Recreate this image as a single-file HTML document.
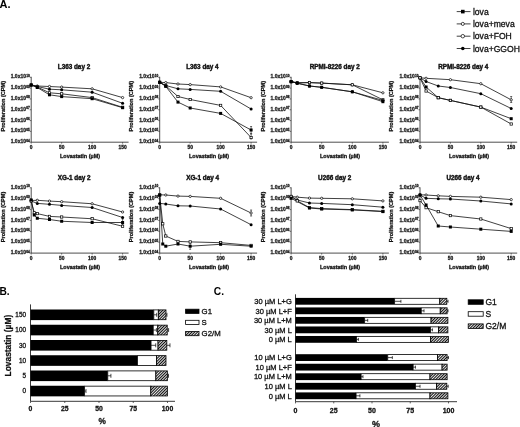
<!DOCTYPE html>
<html><head><meta charset="utf-8"><style>
html,body{margin:0;padding:0;background:#fff;overflow:hidden}
svg{display:block}
text{font-family:'Liberation Sans', Arial, Helvetica, sans-serif}
.sb{stroke:#111;stroke-width:0.28px}
.sr{stroke:#111;stroke-width:0.3px}
.sb2{stroke:#111;stroke-width:0.4px}
</style></head><body>
<svg width="520" height="427" viewBox="0 0 520 427">
<defs><pattern id="hatch" patternUnits="userSpaceOnUse" width="2" height="2" patternTransform="rotate(45)">
<rect width="2" height="2" fill="#fff"/><rect width="1.1" height="2" fill="#111"/></pattern></defs>
<rect width="520" height="427" fill="#fff"/>
<line x1="31.2" y1="76.8" x2="31.2" y2="142.2" stroke="#222" stroke-width="0.8"/>
<line x1="31.2" y1="142.2" x2="128.6" y2="142.2" stroke="#222" stroke-width="0.8"/>
<line x1="29.7" y1="77.30" x2="31.2" y2="77.30" stroke="#222" stroke-width="0.6"/>
<text x="26.0" y="78.40" font-size="5.0" font-weight="bold" text-anchor="end" fill="#333" class="sb">1.0x10</text>
<text x="26.2" y="76.80" font-size="3.2" font-weight="bold" fill="#333" class="sb">10</text>
<line x1="29.7" y1="88.12" x2="31.2" y2="88.12" stroke="#222" stroke-width="0.6"/>
<text x="26.0" y="89.22" font-size="5.0" font-weight="bold" text-anchor="end" fill="#333" class="sb">1.0x10</text>
<text x="26.2" y="87.62" font-size="3.2" font-weight="bold" fill="#333" class="sb">09</text>
<line x1="29.7" y1="98.93" x2="31.2" y2="98.93" stroke="#222" stroke-width="0.6"/>
<text x="26.0" y="100.03" font-size="5.0" font-weight="bold" text-anchor="end" fill="#333" class="sb">1.0x10</text>
<text x="26.2" y="98.43" font-size="3.2" font-weight="bold" fill="#333" class="sb">08</text>
<line x1="29.7" y1="109.75" x2="31.2" y2="109.75" stroke="#222" stroke-width="0.6"/>
<text x="26.0" y="110.85" font-size="5.0" font-weight="bold" text-anchor="end" fill="#333" class="sb">1.0x10</text>
<text x="26.2" y="109.25" font-size="3.2" font-weight="bold" fill="#333" class="sb">07</text>
<line x1="29.7" y1="120.57" x2="31.2" y2="120.57" stroke="#222" stroke-width="0.6"/>
<text x="26.0" y="121.67" font-size="5.0" font-weight="bold" text-anchor="end" fill="#333" class="sb">1.0x10</text>
<text x="26.2" y="120.07" font-size="3.2" font-weight="bold" fill="#333" class="sb">06</text>
<line x1="29.7" y1="131.38" x2="31.2" y2="131.38" stroke="#222" stroke-width="0.6"/>
<text x="26.0" y="132.48" font-size="5.0" font-weight="bold" text-anchor="end" fill="#333" class="sb">1.0x10</text>
<text x="26.2" y="130.88" font-size="3.2" font-weight="bold" fill="#333" class="sb">05</text>
<line x1="29.7" y1="142.20" x2="31.2" y2="142.20" stroke="#222" stroke-width="0.6"/>
<text x="26.0" y="143.30" font-size="5.0" font-weight="bold" text-anchor="end" fill="#333" class="sb">1.0x10</text>
<text x="26.2" y="141.70" font-size="3.2" font-weight="bold" fill="#333" class="sb">04</text>
<line x1="31.20" y1="142.2" x2="31.20" y2="143.7" stroke="#222" stroke-width="0.6"/>
<text x="31.20" y="149.1" font-size="4.9" font-weight="bold" text-anchor="middle" fill="#222" class="sb">0</text>
<line x1="61.67" y1="142.2" x2="61.67" y2="143.7" stroke="#222" stroke-width="0.6"/>
<text x="61.67" y="149.1" font-size="4.9" font-weight="bold" text-anchor="middle" fill="#222" class="sb">50</text>
<line x1="92.13" y1="142.2" x2="92.13" y2="143.7" stroke="#222" stroke-width="0.6"/>
<text x="92.13" y="149.1" font-size="4.9" font-weight="bold" text-anchor="middle" fill="#222" class="sb">100</text>
<line x1="122.60" y1="142.2" x2="122.60" y2="143.7" stroke="#222" stroke-width="0.6"/>
<text x="122.60" y="149.1" font-size="4.9" font-weight="bold" text-anchor="middle" fill="#222" class="sb">150</text>
<text x="74" y="68.9" font-size="6.35" font-weight="bold" text-anchor="middle" fill="#111" class="sb2">L363 day 2</text>
<text x="80" y="157.89999999999998" font-size="5.45" font-weight="bold" text-anchor="middle" fill="#111" class="sb">Lovastatin (&#181;M)</text>
<text transform="translate(4.7 106.25) rotate(-90)" x="0" y="0" font-size="5.6" font-weight="bold" text-anchor="middle" fill="#111" class="sb">Proliferation (CPM)</text>
<polyline points="31.20,85.00 37.29,86.00 49.48,86.50 61.67,87.10 92.13,88.80 122.60,97.60" fill="none" stroke="#111" stroke-width="0.8"/>
<polyline points="31.20,85.00 37.29,86.50 49.48,89.20 61.67,89.80 92.13,92.20 122.60,103.30" fill="none" stroke="#111" stroke-width="0.8"/>
<polyline points="31.20,85.00 37.29,87.00 49.48,92.80 61.67,93.80 92.13,97.60 122.60,107.30" fill="none" stroke="#111" stroke-width="0.8"/>
<polyline points="31.20,85.00 37.29,87.50 49.48,94.80 61.67,96.60 92.13,98.70 122.60,107.70" fill="none" stroke="#111" stroke-width="0.8"/>
<circle cx="31.20" cy="85.00" r="1.15" fill="#fff" stroke="#000" stroke-width="0.7"/>
<circle cx="37.29" cy="86.00" r="1.15" fill="#fff" stroke="#000" stroke-width="0.7"/>
<circle cx="49.48" cy="86.50" r="1.15" fill="#fff" stroke="#000" stroke-width="0.7"/>
<circle cx="61.67" cy="87.10" r="1.15" fill="#fff" stroke="#000" stroke-width="0.7"/>
<circle cx="92.13" cy="88.80" r="1.15" fill="#fff" stroke="#000" stroke-width="0.7"/>
<circle cx="122.60" cy="97.60" r="1.15" fill="#fff" stroke="#000" stroke-width="0.7"/>
<circle cx="31.20" cy="85.00" r="1.50" fill="#000"/>
<circle cx="37.29" cy="86.50" r="1.50" fill="#000"/>
<circle cx="49.48" cy="89.20" r="1.50" fill="#000"/>
<circle cx="61.67" cy="89.80" r="1.50" fill="#000"/>
<circle cx="92.13" cy="92.20" r="1.50" fill="#000"/>
<circle cx="122.60" cy="103.30" r="1.50" fill="#000"/>
<rect x="30.05" y="83.85" width="2.30" height="2.30" fill="#fff" stroke="#000" stroke-width="0.7"/>
<rect x="36.14" y="85.85" width="2.30" height="2.30" fill="#fff" stroke="#000" stroke-width="0.7"/>
<rect x="48.33" y="91.65" width="2.30" height="2.30" fill="#fff" stroke="#000" stroke-width="0.7"/>
<rect x="60.52" y="92.65" width="2.30" height="2.30" fill="#fff" stroke="#000" stroke-width="0.7"/>
<rect x="90.98" y="96.45" width="2.30" height="2.30" fill="#fff" stroke="#000" stroke-width="0.7"/>
<rect x="121.45" y="106.15" width="2.30" height="2.30" fill="#fff" stroke="#000" stroke-width="0.7"/>
<rect x="29.70" y="83.50" width="3.00" height="3.00" fill="#000"/>
<rect x="35.79" y="86.00" width="3.00" height="3.00" fill="#000"/>
<rect x="47.98" y="93.30" width="3.00" height="3.00" fill="#000"/>
<rect x="60.17" y="95.10" width="3.00" height="3.00" fill="#000"/>
<rect x="90.63" y="97.20" width="3.00" height="3.00" fill="#000"/>
<rect x="121.10" y="106.20" width="3.00" height="3.00" fill="#000"/>
<line x1="159.7" y1="76.8" x2="159.7" y2="142.2" stroke="#222" stroke-width="0.8"/>
<line x1="159.7" y1="142.2" x2="257.1" y2="142.2" stroke="#222" stroke-width="0.8"/>
<line x1="158.2" y1="77.30" x2="159.7" y2="77.30" stroke="#222" stroke-width="0.6"/>
<text x="154.5" y="78.40" font-size="5.0" font-weight="bold" text-anchor="end" fill="#333" class="sb">1.0x10</text>
<text x="154.7" y="76.80" font-size="3.2" font-weight="bold" fill="#333" class="sb">10</text>
<line x1="158.2" y1="88.12" x2="159.7" y2="88.12" stroke="#222" stroke-width="0.6"/>
<text x="154.5" y="89.22" font-size="5.0" font-weight="bold" text-anchor="end" fill="#333" class="sb">1.0x10</text>
<text x="154.7" y="87.62" font-size="3.2" font-weight="bold" fill="#333" class="sb">09</text>
<line x1="158.2" y1="98.93" x2="159.7" y2="98.93" stroke="#222" stroke-width="0.6"/>
<text x="154.5" y="100.03" font-size="5.0" font-weight="bold" text-anchor="end" fill="#333" class="sb">1.0x10</text>
<text x="154.7" y="98.43" font-size="3.2" font-weight="bold" fill="#333" class="sb">08</text>
<line x1="158.2" y1="109.75" x2="159.7" y2="109.75" stroke="#222" stroke-width="0.6"/>
<text x="154.5" y="110.85" font-size="5.0" font-weight="bold" text-anchor="end" fill="#333" class="sb">1.0x10</text>
<text x="154.7" y="109.25" font-size="3.2" font-weight="bold" fill="#333" class="sb">07</text>
<line x1="158.2" y1="120.57" x2="159.7" y2="120.57" stroke="#222" stroke-width="0.6"/>
<text x="154.5" y="121.67" font-size="5.0" font-weight="bold" text-anchor="end" fill="#333" class="sb">1.0x10</text>
<text x="154.7" y="120.07" font-size="3.2" font-weight="bold" fill="#333" class="sb">06</text>
<line x1="158.2" y1="131.38" x2="159.7" y2="131.38" stroke="#222" stroke-width="0.6"/>
<text x="154.5" y="132.48" font-size="5.0" font-weight="bold" text-anchor="end" fill="#333" class="sb">1.0x10</text>
<text x="154.7" y="130.88" font-size="3.2" font-weight="bold" fill="#333" class="sb">05</text>
<line x1="158.2" y1="142.20" x2="159.7" y2="142.20" stroke="#222" stroke-width="0.6"/>
<text x="154.5" y="143.30" font-size="5.0" font-weight="bold" text-anchor="end" fill="#333" class="sb">1.0x10</text>
<text x="154.7" y="141.70" font-size="3.2" font-weight="bold" fill="#333" class="sb">04</text>
<line x1="159.70" y1="142.2" x2="159.70" y2="143.7" stroke="#222" stroke-width="0.6"/>
<text x="159.70" y="149.1" font-size="4.9" font-weight="bold" text-anchor="middle" fill="#222" class="sb">0</text>
<line x1="190.17" y1="142.2" x2="190.17" y2="143.7" stroke="#222" stroke-width="0.6"/>
<text x="190.17" y="149.1" font-size="4.9" font-weight="bold" text-anchor="middle" fill="#222" class="sb">50</text>
<line x1="220.63" y1="142.2" x2="220.63" y2="143.7" stroke="#222" stroke-width="0.6"/>
<text x="220.63" y="149.1" font-size="4.9" font-weight="bold" text-anchor="middle" fill="#222" class="sb">100</text>
<line x1="251.10" y1="142.2" x2="251.10" y2="143.7" stroke="#222" stroke-width="0.6"/>
<text x="251.10" y="149.1" font-size="4.9" font-weight="bold" text-anchor="middle" fill="#222" class="sb">150</text>
<text x="202.4" y="68.9" font-size="6.35" font-weight="bold" text-anchor="middle" fill="#111" class="sb2">L363 day 4</text>
<text x="209" y="157.89999999999998" font-size="5.45" font-weight="bold" text-anchor="middle" fill="#111" class="sb">Lovastatin (&#181;M)</text>
<text transform="translate(133.2 106.25) rotate(-90)" x="0" y="0" font-size="5.6" font-weight="bold" text-anchor="middle" fill="#111" class="sb">Proliferation (CPM)</text>
<polyline points="159.70,82.30 165.79,82.60 177.98,84.00 190.17,84.60 220.63,86.90 251.10,97.70" fill="none" stroke="#111" stroke-width="0.8"/>
<polyline points="159.70,82.30 165.79,85.50 177.98,88.80 190.17,89.40 220.63,91.30 251.10,109.00" fill="none" stroke="#111" stroke-width="0.8"/>
<polyline points="159.70,82.30 165.79,85.80 177.98,96.50 190.17,99.50 220.63,105.40 251.10,137.50" fill="none" stroke="#111" stroke-width="0.8"/>
<polyline points="159.70,82.30 165.79,86.40 177.98,102.10 190.17,108.00 220.63,113.40 251.10,130.00" fill="none" stroke="#111" stroke-width="0.8"/>
<path d="M251.10 126.5V133.5M250.10 126.5H252.10M250.10 133.5H252.10" stroke="#111" stroke-width="0.6" fill="none"/>
<path d="M251.10 134V139M250.10 134H252.10M250.10 139H252.10" stroke="#111" stroke-width="0.6" fill="none"/>
<circle cx="159.70" cy="82.30" r="1.15" fill="#fff" stroke="#000" stroke-width="0.7"/>
<circle cx="165.79" cy="82.60" r="1.15" fill="#fff" stroke="#000" stroke-width="0.7"/>
<circle cx="177.98" cy="84.00" r="1.15" fill="#fff" stroke="#000" stroke-width="0.7"/>
<circle cx="190.17" cy="84.60" r="1.15" fill="#fff" stroke="#000" stroke-width="0.7"/>
<circle cx="220.63" cy="86.90" r="1.15" fill="#fff" stroke="#000" stroke-width="0.7"/>
<circle cx="251.10" cy="97.70" r="1.15" fill="#fff" stroke="#000" stroke-width="0.7"/>
<circle cx="159.70" cy="82.30" r="1.50" fill="#000"/>
<circle cx="165.79" cy="85.50" r="1.50" fill="#000"/>
<circle cx="177.98" cy="88.80" r="1.50" fill="#000"/>
<circle cx="190.17" cy="89.40" r="1.50" fill="#000"/>
<circle cx="220.63" cy="91.30" r="1.50" fill="#000"/>
<circle cx="251.10" cy="109.00" r="1.50" fill="#000"/>
<rect x="158.55" y="81.15" width="2.30" height="2.30" fill="#fff" stroke="#000" stroke-width="0.7"/>
<rect x="164.64" y="84.65" width="2.30" height="2.30" fill="#fff" stroke="#000" stroke-width="0.7"/>
<rect x="176.83" y="95.35" width="2.30" height="2.30" fill="#fff" stroke="#000" stroke-width="0.7"/>
<rect x="189.02" y="98.35" width="2.30" height="2.30" fill="#fff" stroke="#000" stroke-width="0.7"/>
<rect x="219.48" y="104.25" width="2.30" height="2.30" fill="#fff" stroke="#000" stroke-width="0.7"/>
<rect x="249.95" y="136.35" width="2.30" height="2.30" fill="#fff" stroke="#000" stroke-width="0.7"/>
<rect x="158.20" y="80.80" width="3.00" height="3.00" fill="#000"/>
<rect x="164.29" y="84.90" width="3.00" height="3.00" fill="#000"/>
<rect x="176.48" y="100.60" width="3.00" height="3.00" fill="#000"/>
<rect x="188.67" y="106.50" width="3.00" height="3.00" fill="#000"/>
<rect x="219.13" y="111.90" width="3.00" height="3.00" fill="#000"/>
<rect x="249.60" y="128.50" width="3.00" height="3.00" fill="#000"/>
<line x1="291.1" y1="76.8" x2="291.1" y2="142.2" stroke="#222" stroke-width="0.8"/>
<line x1="291.1" y1="142.2" x2="388.9" y2="142.2" stroke="#222" stroke-width="0.8"/>
<line x1="289.6" y1="77.30" x2="291.1" y2="77.30" stroke="#222" stroke-width="0.6"/>
<text x="285.90000000000003" y="78.40" font-size="5.0" font-weight="bold" text-anchor="end" fill="#333" class="sb">1.0x10</text>
<text x="286.1" y="76.80" font-size="3.2" font-weight="bold" fill="#333" class="sb">10</text>
<line x1="289.6" y1="88.12" x2="291.1" y2="88.12" stroke="#222" stroke-width="0.6"/>
<text x="285.90000000000003" y="89.22" font-size="5.0" font-weight="bold" text-anchor="end" fill="#333" class="sb">1.0x10</text>
<text x="286.1" y="87.62" font-size="3.2" font-weight="bold" fill="#333" class="sb">09</text>
<line x1="289.6" y1="98.93" x2="291.1" y2="98.93" stroke="#222" stroke-width="0.6"/>
<text x="285.90000000000003" y="100.03" font-size="5.0" font-weight="bold" text-anchor="end" fill="#333" class="sb">1.0x10</text>
<text x="286.1" y="98.43" font-size="3.2" font-weight="bold" fill="#333" class="sb">08</text>
<line x1="289.6" y1="109.75" x2="291.1" y2="109.75" stroke="#222" stroke-width="0.6"/>
<text x="285.90000000000003" y="110.85" font-size="5.0" font-weight="bold" text-anchor="end" fill="#333" class="sb">1.0x10</text>
<text x="286.1" y="109.25" font-size="3.2" font-weight="bold" fill="#333" class="sb">07</text>
<line x1="289.6" y1="120.57" x2="291.1" y2="120.57" stroke="#222" stroke-width="0.6"/>
<text x="285.90000000000003" y="121.67" font-size="5.0" font-weight="bold" text-anchor="end" fill="#333" class="sb">1.0x10</text>
<text x="286.1" y="120.07" font-size="3.2" font-weight="bold" fill="#333" class="sb">06</text>
<line x1="289.6" y1="131.38" x2="291.1" y2="131.38" stroke="#222" stroke-width="0.6"/>
<text x="285.90000000000003" y="132.48" font-size="5.0" font-weight="bold" text-anchor="end" fill="#333" class="sb">1.0x10</text>
<text x="286.1" y="130.88" font-size="3.2" font-weight="bold" fill="#333" class="sb">05</text>
<line x1="289.6" y1="142.20" x2="291.1" y2="142.20" stroke="#222" stroke-width="0.6"/>
<text x="285.90000000000003" y="143.30" font-size="5.0" font-weight="bold" text-anchor="end" fill="#333" class="sb">1.0x10</text>
<text x="286.1" y="141.70" font-size="3.2" font-weight="bold" fill="#333" class="sb">04</text>
<line x1="291.10" y1="142.2" x2="291.10" y2="143.7" stroke="#222" stroke-width="0.6"/>
<text x="291.10" y="149.1" font-size="4.9" font-weight="bold" text-anchor="middle" fill="#222" class="sb">0</text>
<line x1="321.70" y1="142.2" x2="321.70" y2="143.7" stroke="#222" stroke-width="0.6"/>
<text x="321.70" y="149.1" font-size="4.9" font-weight="bold" text-anchor="middle" fill="#222" class="sb">50</text>
<line x1="352.30" y1="142.2" x2="352.30" y2="143.7" stroke="#222" stroke-width="0.6"/>
<text x="352.30" y="149.1" font-size="4.9" font-weight="bold" text-anchor="middle" fill="#222" class="sb">100</text>
<line x1="382.90" y1="142.2" x2="382.90" y2="143.7" stroke="#222" stroke-width="0.6"/>
<text x="382.90" y="149.1" font-size="4.9" font-weight="bold" text-anchor="middle" fill="#222" class="sb">150</text>
<text x="334.7" y="68.9" font-size="6.35" font-weight="bold" text-anchor="middle" fill="#111" class="sb2">RPMI-8226 day 2</text>
<text x="340" y="157.89999999999998" font-size="5.45" font-weight="bold" text-anchor="middle" fill="#111" class="sb">Lovastatin (&#181;M)</text>
<text transform="translate(264.8 106.25) rotate(-90)" x="0" y="0" font-size="5.6" font-weight="bold" text-anchor="middle" fill="#111" class="sb">Proliferation (CPM)</text>
<polyline points="291.10,81.80 297.22,82.80 309.46,82.60 321.70,83.10 352.30,84.80 382.90,92.80" fill="none" stroke="#111" stroke-width="0.8"/>
<polyline points="291.10,81.80 297.22,82.80 309.46,82.60 321.70,83.10 352.30,84.80 382.90,99.80" fill="none" stroke="#111" stroke-width="0.8"/>
<polyline points="291.10,81.50 297.22,83.20 309.46,86.00 321.70,87.30 352.30,91.80 382.90,100.40" fill="none" stroke="#111" stroke-width="0.8"/>
<polyline points="291.10,81.50 297.22,83.20 309.46,86.00 321.70,87.30 352.30,91.80 382.90,101.70" fill="none" stroke="#111" stroke-width="0.8"/>
<circle cx="291.10" cy="81.80" r="1.15" fill="#fff" stroke="#000" stroke-width="0.7"/>
<circle cx="297.22" cy="82.80" r="1.15" fill="#fff" stroke="#000" stroke-width="0.7"/>
<circle cx="309.46" cy="82.60" r="1.15" fill="#fff" stroke="#000" stroke-width="0.7"/>
<circle cx="321.70" cy="83.10" r="1.15" fill="#fff" stroke="#000" stroke-width="0.7"/>
<circle cx="352.30" cy="84.80" r="1.15" fill="#fff" stroke="#000" stroke-width="0.7"/>
<circle cx="382.90" cy="92.80" r="1.15" fill="#fff" stroke="#000" stroke-width="0.7"/>
<rect x="289.95" y="80.65" width="2.30" height="2.30" fill="#fff" stroke="#000" stroke-width="0.7"/>
<rect x="296.07" y="81.65" width="2.30" height="2.30" fill="#fff" stroke="#000" stroke-width="0.7"/>
<rect x="308.31" y="81.45" width="2.30" height="2.30" fill="#fff" stroke="#000" stroke-width="0.7"/>
<rect x="320.55" y="81.95" width="2.30" height="2.30" fill="#fff" stroke="#000" stroke-width="0.7"/>
<rect x="351.15" y="83.65" width="2.30" height="2.30" fill="#fff" stroke="#000" stroke-width="0.7"/>
<rect x="381.75" y="98.65" width="2.30" height="2.30" fill="#fff" stroke="#000" stroke-width="0.7"/>
<circle cx="291.10" cy="81.50" r="1.50" fill="#000"/>
<circle cx="297.22" cy="83.20" r="1.50" fill="#000"/>
<circle cx="309.46" cy="86.00" r="1.50" fill="#000"/>
<circle cx="321.70" cy="87.30" r="1.50" fill="#000"/>
<circle cx="352.30" cy="91.80" r="1.50" fill="#000"/>
<circle cx="382.90" cy="100.40" r="1.50" fill="#000"/>
<rect x="289.60" y="80.00" width="3.00" height="3.00" fill="#000"/>
<rect x="295.72" y="81.70" width="3.00" height="3.00" fill="#000"/>
<rect x="307.96" y="84.50" width="3.00" height="3.00" fill="#000"/>
<rect x="320.20" y="85.80" width="3.00" height="3.00" fill="#000"/>
<rect x="350.80" y="90.30" width="3.00" height="3.00" fill="#000"/>
<rect x="381.40" y="100.20" width="3.00" height="3.00" fill="#000"/>
<line x1="420.0" y1="76.8" x2="420.0" y2="142.2" stroke="#222" stroke-width="0.8"/>
<line x1="420.0" y1="142.2" x2="517.2" y2="142.2" stroke="#222" stroke-width="0.8"/>
<line x1="418.5" y1="77.30" x2="420.0" y2="77.30" stroke="#222" stroke-width="0.6"/>
<text x="414.8" y="78.40" font-size="5.0" font-weight="bold" text-anchor="end" fill="#333" class="sb">1.0x10</text>
<text x="415.0" y="76.80" font-size="3.2" font-weight="bold" fill="#333" class="sb">10</text>
<line x1="418.5" y1="88.12" x2="420.0" y2="88.12" stroke="#222" stroke-width="0.6"/>
<text x="414.8" y="89.22" font-size="5.0" font-weight="bold" text-anchor="end" fill="#333" class="sb">1.0x10</text>
<text x="415.0" y="87.62" font-size="3.2" font-weight="bold" fill="#333" class="sb">09</text>
<line x1="418.5" y1="98.93" x2="420.0" y2="98.93" stroke="#222" stroke-width="0.6"/>
<text x="414.8" y="100.03" font-size="5.0" font-weight="bold" text-anchor="end" fill="#333" class="sb">1.0x10</text>
<text x="415.0" y="98.43" font-size="3.2" font-weight="bold" fill="#333" class="sb">08</text>
<line x1="418.5" y1="109.75" x2="420.0" y2="109.75" stroke="#222" stroke-width="0.6"/>
<text x="414.8" y="110.85" font-size="5.0" font-weight="bold" text-anchor="end" fill="#333" class="sb">1.0x10</text>
<text x="415.0" y="109.25" font-size="3.2" font-weight="bold" fill="#333" class="sb">07</text>
<line x1="418.5" y1="120.57" x2="420.0" y2="120.57" stroke="#222" stroke-width="0.6"/>
<text x="414.8" y="121.67" font-size="5.0" font-weight="bold" text-anchor="end" fill="#333" class="sb">1.0x10</text>
<text x="415.0" y="120.07" font-size="3.2" font-weight="bold" fill="#333" class="sb">06</text>
<line x1="418.5" y1="131.38" x2="420.0" y2="131.38" stroke="#222" stroke-width="0.6"/>
<text x="414.8" y="132.48" font-size="5.0" font-weight="bold" text-anchor="end" fill="#333" class="sb">1.0x10</text>
<text x="415.0" y="130.88" font-size="3.2" font-weight="bold" fill="#333" class="sb">05</text>
<line x1="418.5" y1="142.20" x2="420.0" y2="142.20" stroke="#222" stroke-width="0.6"/>
<text x="414.8" y="143.30" font-size="5.0" font-weight="bold" text-anchor="end" fill="#333" class="sb">1.0x10</text>
<text x="415.0" y="141.70" font-size="3.2" font-weight="bold" fill="#333" class="sb">04</text>
<line x1="420.00" y1="142.2" x2="420.00" y2="143.7" stroke="#222" stroke-width="0.6"/>
<text x="420.00" y="149.1" font-size="4.9" font-weight="bold" text-anchor="middle" fill="#222" class="sb">0</text>
<line x1="450.40" y1="142.2" x2="450.40" y2="143.7" stroke="#222" stroke-width="0.6"/>
<text x="450.40" y="149.1" font-size="4.9" font-weight="bold" text-anchor="middle" fill="#222" class="sb">50</text>
<line x1="480.80" y1="142.2" x2="480.80" y2="143.7" stroke="#222" stroke-width="0.6"/>
<text x="480.80" y="149.1" font-size="4.9" font-weight="bold" text-anchor="middle" fill="#222" class="sb">100</text>
<line x1="511.20" y1="142.2" x2="511.20" y2="143.7" stroke="#222" stroke-width="0.6"/>
<text x="511.20" y="149.1" font-size="4.9" font-weight="bold" text-anchor="middle" fill="#222" class="sb">150</text>
<text x="463.2" y="68.9" font-size="6.35" font-weight="bold" text-anchor="middle" fill="#111" class="sb2">RPMI-8226 day 4</text>
<text x="469" y="157.89999999999998" font-size="5.45" font-weight="bold" text-anchor="middle" fill="#111" class="sb">Lovastatin (&#181;M)</text>
<text transform="translate(393.2 106.25) rotate(-90)" x="0" y="0" font-size="5.6" font-weight="bold" text-anchor="middle" fill="#111" class="sb">Proliferation (CPM)</text>
<polyline points="420.00,77.80 426.08,78.30 450.40,79.70 480.80,83.70 511.20,99.80" fill="none" stroke="#111" stroke-width="0.8"/>
<polyline points="420.00,77.80 426.08,81.50 438.24,86.00 450.40,87.50 480.80,93.70 511.20,108.50" fill="none" stroke="#111" stroke-width="0.8"/>
<polyline points="420.00,77.80 426.08,87.00 438.24,97.70 450.40,100.40 480.80,107.10 511.20,118.70" fill="none" stroke="#111" stroke-width="0.8"/>
<polyline points="420.00,77.80 426.08,91.00 438.24,97.70 450.40,100.40 480.80,107.10 511.20,124.00" fill="none" stroke="#111" stroke-width="0.8"/>
<path d="M511.20 96.5V102.5M510.20 96.5H512.20M510.20 102.5H512.20" stroke="#111" stroke-width="0.6" fill="none"/>
<circle cx="420.00" cy="77.80" r="1.15" fill="#fff" stroke="#000" stroke-width="0.7"/>
<circle cx="426.08" cy="78.30" r="1.15" fill="#fff" stroke="#000" stroke-width="0.7"/>
<circle cx="450.40" cy="79.70" r="1.15" fill="#fff" stroke="#000" stroke-width="0.7"/>
<circle cx="480.80" cy="83.70" r="1.15" fill="#fff" stroke="#000" stroke-width="0.7"/>
<circle cx="511.20" cy="99.80" r="1.15" fill="#fff" stroke="#000" stroke-width="0.7"/>
<circle cx="420.00" cy="77.80" r="1.50" fill="#000"/>
<circle cx="426.08" cy="81.50" r="1.50" fill="#000"/>
<circle cx="438.24" cy="86.00" r="1.50" fill="#000"/>
<circle cx="450.40" cy="87.50" r="1.50" fill="#000"/>
<circle cx="480.80" cy="93.70" r="1.50" fill="#000"/>
<circle cx="511.20" cy="108.50" r="1.50" fill="#000"/>
<rect x="418.50" y="76.30" width="3.00" height="3.00" fill="#000"/>
<rect x="424.58" y="85.50" width="3.00" height="3.00" fill="#000"/>
<rect x="436.74" y="96.20" width="3.00" height="3.00" fill="#000"/>
<rect x="448.90" y="98.90" width="3.00" height="3.00" fill="#000"/>
<rect x="479.30" y="105.60" width="3.00" height="3.00" fill="#000"/>
<rect x="509.70" y="117.20" width="3.00" height="3.00" fill="#000"/>
<rect x="418.85" y="76.65" width="2.30" height="2.30" fill="#fff" stroke="#000" stroke-width="0.7"/>
<rect x="424.93" y="89.85" width="2.30" height="2.30" fill="#fff" stroke="#000" stroke-width="0.7"/>
<rect x="437.09" y="96.55" width="2.30" height="2.30" fill="#fff" stroke="#000" stroke-width="0.7"/>
<rect x="449.25" y="99.25" width="2.30" height="2.30" fill="#fff" stroke="#000" stroke-width="0.7"/>
<rect x="479.65" y="105.95" width="2.30" height="2.30" fill="#fff" stroke="#000" stroke-width="0.7"/>
<rect x="510.05" y="122.85" width="2.30" height="2.30" fill="#fff" stroke="#000" stroke-width="0.7"/>
<line x1="31.2" y1="187.3" x2="31.2" y2="253.1" stroke="#222" stroke-width="0.8"/>
<line x1="31.2" y1="253.1" x2="128.6" y2="253.1" stroke="#222" stroke-width="0.8"/>
<line x1="29.7" y1="187.80" x2="31.2" y2="187.80" stroke="#222" stroke-width="0.6"/>
<text x="26.0" y="188.90" font-size="5.0" font-weight="bold" text-anchor="end" fill="#333" class="sb">1.0x10</text>
<text x="26.2" y="187.30" font-size="3.2" font-weight="bold" fill="#333" class="sb">10</text>
<line x1="29.7" y1="198.68" x2="31.2" y2="198.68" stroke="#222" stroke-width="0.6"/>
<text x="26.0" y="199.78" font-size="5.0" font-weight="bold" text-anchor="end" fill="#333" class="sb">1.0x10</text>
<text x="26.2" y="198.18" font-size="3.2" font-weight="bold" fill="#333" class="sb">09</text>
<line x1="29.7" y1="209.57" x2="31.2" y2="209.57" stroke="#222" stroke-width="0.6"/>
<text x="26.0" y="210.67" font-size="5.0" font-weight="bold" text-anchor="end" fill="#333" class="sb">1.0x10</text>
<text x="26.2" y="209.07" font-size="3.2" font-weight="bold" fill="#333" class="sb">08</text>
<line x1="29.7" y1="220.45" x2="31.2" y2="220.45" stroke="#222" stroke-width="0.6"/>
<text x="26.0" y="221.55" font-size="5.0" font-weight="bold" text-anchor="end" fill="#333" class="sb">1.0x10</text>
<text x="26.2" y="219.95" font-size="3.2" font-weight="bold" fill="#333" class="sb">07</text>
<line x1="29.7" y1="231.33" x2="31.2" y2="231.33" stroke="#222" stroke-width="0.6"/>
<text x="26.0" y="232.43" font-size="5.0" font-weight="bold" text-anchor="end" fill="#333" class="sb">1.0x10</text>
<text x="26.2" y="230.83" font-size="3.2" font-weight="bold" fill="#333" class="sb">06</text>
<line x1="29.7" y1="242.22" x2="31.2" y2="242.22" stroke="#222" stroke-width="0.6"/>
<text x="26.0" y="243.32" font-size="5.0" font-weight="bold" text-anchor="end" fill="#333" class="sb">1.0x10</text>
<text x="26.2" y="241.72" font-size="3.2" font-weight="bold" fill="#333" class="sb">05</text>
<line x1="29.7" y1="253.10" x2="31.2" y2="253.10" stroke="#222" stroke-width="0.6"/>
<text x="26.0" y="254.20" font-size="5.0" font-weight="bold" text-anchor="end" fill="#333" class="sb">1.0x10</text>
<text x="26.2" y="252.60" font-size="3.2" font-weight="bold" fill="#333" class="sb">04</text>
<line x1="31.20" y1="253.1" x2="31.20" y2="254.6" stroke="#222" stroke-width="0.6"/>
<text x="31.20" y="260.0" font-size="4.9" font-weight="bold" text-anchor="middle" fill="#222" class="sb">0</text>
<line x1="61.67" y1="253.1" x2="61.67" y2="254.6" stroke="#222" stroke-width="0.6"/>
<text x="61.67" y="260.0" font-size="4.9" font-weight="bold" text-anchor="middle" fill="#222" class="sb">50</text>
<line x1="92.13" y1="253.1" x2="92.13" y2="254.6" stroke="#222" stroke-width="0.6"/>
<text x="92.13" y="260.0" font-size="4.9" font-weight="bold" text-anchor="middle" fill="#222" class="sb">100</text>
<line x1="122.60" y1="253.1" x2="122.60" y2="254.6" stroke="#222" stroke-width="0.6"/>
<text x="122.60" y="260.0" font-size="4.9" font-weight="bold" text-anchor="middle" fill="#222" class="sb">150</text>
<text x="74.2" y="179.9" font-size="6.35" font-weight="bold" text-anchor="middle" fill="#111" class="sb2">XG-1 day 2</text>
<text x="80" y="268.8" font-size="5.45" font-weight="bold" text-anchor="middle" fill="#111" class="sb">Lovastatin (&#181;M)</text>
<text transform="translate(4.7 216.95) rotate(-90)" x="0" y="0" font-size="5.6" font-weight="bold" text-anchor="middle" fill="#111" class="sb">Proliferation (CPM)</text>
<polyline points="31.20,200.50 37.29,200.30 49.48,201.10 61.67,201.70 92.13,203.75 122.60,212.00" fill="none" stroke="#111" stroke-width="0.8"/>
<polyline points="31.20,201.00 37.29,203.40 49.48,204.30 61.67,205.40 92.13,207.50 122.60,217.50" fill="none" stroke="#111" stroke-width="0.8"/>
<polyline points="31.20,201.00 34.25,212.80 37.29,213.60 49.48,216.40 61.67,217.00 92.13,218.75 122.60,226.25" fill="none" stroke="#111" stroke-width="0.8"/>
<polyline points="31.20,200.00 34.25,215.00 37.29,218.25 49.48,219.50 61.67,221.25 92.13,222.50 122.60,222.50" fill="none" stroke="#111" stroke-width="0.8"/>
<path d="M122.60 219V225M121.60 219H123.60M121.60 225H123.60" stroke="#111" stroke-width="0.6" fill="none"/>
<circle cx="31.20" cy="200.50" r="1.15" fill="#fff" stroke="#000" stroke-width="0.7"/>
<circle cx="37.29" cy="200.30" r="1.15" fill="#fff" stroke="#000" stroke-width="0.7"/>
<circle cx="49.48" cy="201.10" r="1.15" fill="#fff" stroke="#000" stroke-width="0.7"/>
<circle cx="61.67" cy="201.70" r="1.15" fill="#fff" stroke="#000" stroke-width="0.7"/>
<circle cx="92.13" cy="203.75" r="1.15" fill="#fff" stroke="#000" stroke-width="0.7"/>
<circle cx="122.60" cy="212.00" r="1.15" fill="#fff" stroke="#000" stroke-width="0.7"/>
<circle cx="31.20" cy="201.00" r="1.50" fill="#000"/>
<circle cx="37.29" cy="203.40" r="1.50" fill="#000"/>
<circle cx="49.48" cy="204.30" r="1.50" fill="#000"/>
<circle cx="61.67" cy="205.40" r="1.50" fill="#000"/>
<circle cx="92.13" cy="207.50" r="1.50" fill="#000"/>
<circle cx="122.60" cy="217.50" r="1.50" fill="#000"/>
<rect x="30.05" y="199.85" width="2.30" height="2.30" fill="#fff" stroke="#000" stroke-width="0.7"/>
<rect x="33.10" y="211.65" width="2.30" height="2.30" fill="#fff" stroke="#000" stroke-width="0.7"/>
<rect x="36.14" y="212.45" width="2.30" height="2.30" fill="#fff" stroke="#000" stroke-width="0.7"/>
<rect x="48.33" y="215.25" width="2.30" height="2.30" fill="#fff" stroke="#000" stroke-width="0.7"/>
<rect x="60.52" y="215.85" width="2.30" height="2.30" fill="#fff" stroke="#000" stroke-width="0.7"/>
<rect x="90.98" y="217.60" width="2.30" height="2.30" fill="#fff" stroke="#000" stroke-width="0.7"/>
<rect x="121.45" y="225.10" width="2.30" height="2.30" fill="#fff" stroke="#000" stroke-width="0.7"/>
<rect x="29.70" y="198.50" width="3.00" height="3.00" fill="#000"/>
<rect x="32.75" y="213.50" width="3.00" height="3.00" fill="#000"/>
<rect x="35.79" y="216.75" width="3.00" height="3.00" fill="#000"/>
<rect x="47.98" y="218.00" width="3.00" height="3.00" fill="#000"/>
<rect x="60.17" y="219.75" width="3.00" height="3.00" fill="#000"/>
<rect x="90.63" y="221.00" width="3.00" height="3.00" fill="#000"/>
<rect x="121.10" y="221.00" width="3.00" height="3.00" fill="#000"/>
<line x1="159.7" y1="187.3" x2="159.7" y2="253.1" stroke="#222" stroke-width="0.8"/>
<line x1="159.7" y1="253.1" x2="257.1" y2="253.1" stroke="#222" stroke-width="0.8"/>
<line x1="158.2" y1="187.80" x2="159.7" y2="187.80" stroke="#222" stroke-width="0.6"/>
<text x="154.5" y="188.90" font-size="5.0" font-weight="bold" text-anchor="end" fill="#333" class="sb">1.0x10</text>
<text x="154.7" y="187.30" font-size="3.2" font-weight="bold" fill="#333" class="sb">10</text>
<line x1="158.2" y1="198.68" x2="159.7" y2="198.68" stroke="#222" stroke-width="0.6"/>
<text x="154.5" y="199.78" font-size="5.0" font-weight="bold" text-anchor="end" fill="#333" class="sb">1.0x10</text>
<text x="154.7" y="198.18" font-size="3.2" font-weight="bold" fill="#333" class="sb">09</text>
<line x1="158.2" y1="209.57" x2="159.7" y2="209.57" stroke="#222" stroke-width="0.6"/>
<text x="154.5" y="210.67" font-size="5.0" font-weight="bold" text-anchor="end" fill="#333" class="sb">1.0x10</text>
<text x="154.7" y="209.07" font-size="3.2" font-weight="bold" fill="#333" class="sb">08</text>
<line x1="158.2" y1="220.45" x2="159.7" y2="220.45" stroke="#222" stroke-width="0.6"/>
<text x="154.5" y="221.55" font-size="5.0" font-weight="bold" text-anchor="end" fill="#333" class="sb">1.0x10</text>
<text x="154.7" y="219.95" font-size="3.2" font-weight="bold" fill="#333" class="sb">07</text>
<line x1="158.2" y1="231.33" x2="159.7" y2="231.33" stroke="#222" stroke-width="0.6"/>
<text x="154.5" y="232.43" font-size="5.0" font-weight="bold" text-anchor="end" fill="#333" class="sb">1.0x10</text>
<text x="154.7" y="230.83" font-size="3.2" font-weight="bold" fill="#333" class="sb">06</text>
<line x1="158.2" y1="242.22" x2="159.7" y2="242.22" stroke="#222" stroke-width="0.6"/>
<text x="154.5" y="243.32" font-size="5.0" font-weight="bold" text-anchor="end" fill="#333" class="sb">1.0x10</text>
<text x="154.7" y="241.72" font-size="3.2" font-weight="bold" fill="#333" class="sb">05</text>
<line x1="158.2" y1="253.10" x2="159.7" y2="253.10" stroke="#222" stroke-width="0.6"/>
<text x="154.5" y="254.20" font-size="5.0" font-weight="bold" text-anchor="end" fill="#333" class="sb">1.0x10</text>
<text x="154.7" y="252.60" font-size="3.2" font-weight="bold" fill="#333" class="sb">04</text>
<line x1="159.70" y1="253.1" x2="159.70" y2="254.6" stroke="#222" stroke-width="0.6"/>
<text x="159.70" y="260.0" font-size="4.9" font-weight="bold" text-anchor="middle" fill="#222" class="sb">0</text>
<line x1="190.17" y1="253.1" x2="190.17" y2="254.6" stroke="#222" stroke-width="0.6"/>
<text x="190.17" y="260.0" font-size="4.9" font-weight="bold" text-anchor="middle" fill="#222" class="sb">50</text>
<line x1="220.63" y1="253.1" x2="220.63" y2="254.6" stroke="#222" stroke-width="0.6"/>
<text x="220.63" y="260.0" font-size="4.9" font-weight="bold" text-anchor="middle" fill="#222" class="sb">100</text>
<line x1="251.10" y1="253.1" x2="251.10" y2="254.6" stroke="#222" stroke-width="0.6"/>
<text x="251.10" y="260.0" font-size="4.9" font-weight="bold" text-anchor="middle" fill="#222" class="sb">150</text>
<text x="202.6" y="179.9" font-size="6.35" font-weight="bold" text-anchor="middle" fill="#111" class="sb2">XG-1 day 4</text>
<text x="209" y="268.8" font-size="5.45" font-weight="bold" text-anchor="middle" fill="#111" class="sb">Lovastatin (&#181;M)</text>
<text transform="translate(133.2 216.95) rotate(-90)" x="0" y="0" font-size="5.6" font-weight="bold" text-anchor="middle" fill="#111" class="sb">Proliferation (CPM)</text>
<polyline points="159.70,194.80 165.79,195.00 177.98,196.10 190.17,196.40 220.63,198.30 251.10,213.00" fill="none" stroke="#111" stroke-width="0.8"/>
<polyline points="159.70,203.40 165.79,204.00 177.98,205.80 190.17,206.00 220.63,209.00 251.10,224.70" fill="none" stroke="#111" stroke-width="0.8"/>
<polyline points="159.70,195.00 162.75,223.80 165.79,236.00 177.98,241.40 190.17,241.90 220.63,242.70 251.10,245.40" fill="none" stroke="#111" stroke-width="0.8"/>
<polyline points="159.70,195.00 162.75,244.00 165.79,246.20 177.98,244.00 190.17,246.20 220.63,244.30 251.10,246.20" fill="none" stroke="#111" stroke-width="0.8"/>
<path d="M190.17 243V249.3M189.17 243H191.17M189.17 249.3H191.17" stroke="#111" stroke-width="0.6" fill="none"/>
<path d="M251.10 210V216M250.10 210H252.10M250.10 216H252.10" stroke="#111" stroke-width="0.6" fill="none"/>
<circle cx="159.70" cy="194.80" r="1.15" fill="#fff" stroke="#000" stroke-width="0.7"/>
<circle cx="165.79" cy="195.00" r="1.15" fill="#fff" stroke="#000" stroke-width="0.7"/>
<circle cx="177.98" cy="196.10" r="1.15" fill="#fff" stroke="#000" stroke-width="0.7"/>
<circle cx="190.17" cy="196.40" r="1.15" fill="#fff" stroke="#000" stroke-width="0.7"/>
<circle cx="220.63" cy="198.30" r="1.15" fill="#fff" stroke="#000" stroke-width="0.7"/>
<circle cx="251.10" cy="213.00" r="1.15" fill="#fff" stroke="#000" stroke-width="0.7"/>
<circle cx="159.70" cy="203.40" r="1.50" fill="#000"/>
<circle cx="165.79" cy="204.00" r="1.50" fill="#000"/>
<circle cx="177.98" cy="205.80" r="1.50" fill="#000"/>
<circle cx="190.17" cy="206.00" r="1.50" fill="#000"/>
<circle cx="220.63" cy="209.00" r="1.50" fill="#000"/>
<circle cx="251.10" cy="224.70" r="1.50" fill="#000"/>
<rect x="158.55" y="193.85" width="2.30" height="2.30" fill="#fff" stroke="#000" stroke-width="0.7"/>
<rect x="161.60" y="222.65" width="2.30" height="2.30" fill="#fff" stroke="#000" stroke-width="0.7"/>
<rect x="164.64" y="234.85" width="2.30" height="2.30" fill="#fff" stroke="#000" stroke-width="0.7"/>
<rect x="176.83" y="240.25" width="2.30" height="2.30" fill="#fff" stroke="#000" stroke-width="0.7"/>
<rect x="189.02" y="240.75" width="2.30" height="2.30" fill="#fff" stroke="#000" stroke-width="0.7"/>
<rect x="219.48" y="241.55" width="2.30" height="2.30" fill="#fff" stroke="#000" stroke-width="0.7"/>
<rect x="249.95" y="244.25" width="2.30" height="2.30" fill="#fff" stroke="#000" stroke-width="0.7"/>
<rect x="158.20" y="193.50" width="3.00" height="3.00" fill="#000"/>
<rect x="161.25" y="242.50" width="3.00" height="3.00" fill="#000"/>
<rect x="164.29" y="244.70" width="3.00" height="3.00" fill="#000"/>
<rect x="176.48" y="242.50" width="3.00" height="3.00" fill="#000"/>
<rect x="188.67" y="244.70" width="3.00" height="3.00" fill="#000"/>
<rect x="219.13" y="242.80" width="3.00" height="3.00" fill="#000"/>
<rect x="249.60" y="244.70" width="3.00" height="3.00" fill="#000"/>
<line x1="291.1" y1="187.3" x2="291.1" y2="253.1" stroke="#222" stroke-width="0.8"/>
<line x1="291.1" y1="253.1" x2="388.9" y2="253.1" stroke="#222" stroke-width="0.8"/>
<line x1="289.6" y1="187.80" x2="291.1" y2="187.80" stroke="#222" stroke-width="0.6"/>
<text x="285.90000000000003" y="188.90" font-size="5.0" font-weight="bold" text-anchor="end" fill="#333" class="sb">1.0x10</text>
<text x="286.1" y="187.30" font-size="3.2" font-weight="bold" fill="#333" class="sb">10</text>
<line x1="289.6" y1="198.68" x2="291.1" y2="198.68" stroke="#222" stroke-width="0.6"/>
<text x="285.90000000000003" y="199.78" font-size="5.0" font-weight="bold" text-anchor="end" fill="#333" class="sb">1.0x10</text>
<text x="286.1" y="198.18" font-size="3.2" font-weight="bold" fill="#333" class="sb">09</text>
<line x1="289.6" y1="209.57" x2="291.1" y2="209.57" stroke="#222" stroke-width="0.6"/>
<text x="285.90000000000003" y="210.67" font-size="5.0" font-weight="bold" text-anchor="end" fill="#333" class="sb">1.0x10</text>
<text x="286.1" y="209.07" font-size="3.2" font-weight="bold" fill="#333" class="sb">08</text>
<line x1="289.6" y1="220.45" x2="291.1" y2="220.45" stroke="#222" stroke-width="0.6"/>
<text x="285.90000000000003" y="221.55" font-size="5.0" font-weight="bold" text-anchor="end" fill="#333" class="sb">1.0x10</text>
<text x="286.1" y="219.95" font-size="3.2" font-weight="bold" fill="#333" class="sb">07</text>
<line x1="289.6" y1="231.33" x2="291.1" y2="231.33" stroke="#222" stroke-width="0.6"/>
<text x="285.90000000000003" y="232.43" font-size="5.0" font-weight="bold" text-anchor="end" fill="#333" class="sb">1.0x10</text>
<text x="286.1" y="230.83" font-size="3.2" font-weight="bold" fill="#333" class="sb">06</text>
<line x1="289.6" y1="242.22" x2="291.1" y2="242.22" stroke="#222" stroke-width="0.6"/>
<text x="285.90000000000003" y="243.32" font-size="5.0" font-weight="bold" text-anchor="end" fill="#333" class="sb">1.0x10</text>
<text x="286.1" y="241.72" font-size="3.2" font-weight="bold" fill="#333" class="sb">05</text>
<line x1="289.6" y1="253.10" x2="291.1" y2="253.10" stroke="#222" stroke-width="0.6"/>
<text x="285.90000000000003" y="254.20" font-size="5.0" font-weight="bold" text-anchor="end" fill="#333" class="sb">1.0x10</text>
<text x="286.1" y="252.60" font-size="3.2" font-weight="bold" fill="#333" class="sb">04</text>
<line x1="291.10" y1="253.1" x2="291.10" y2="254.6" stroke="#222" stroke-width="0.6"/>
<text x="291.10" y="260.0" font-size="4.9" font-weight="bold" text-anchor="middle" fill="#222" class="sb">0</text>
<line x1="321.70" y1="253.1" x2="321.70" y2="254.6" stroke="#222" stroke-width="0.6"/>
<text x="321.70" y="260.0" font-size="4.9" font-weight="bold" text-anchor="middle" fill="#222" class="sb">50</text>
<line x1="352.30" y1="253.1" x2="352.30" y2="254.6" stroke="#222" stroke-width="0.6"/>
<text x="352.30" y="260.0" font-size="4.9" font-weight="bold" text-anchor="middle" fill="#222" class="sb">100</text>
<line x1="382.90" y1="253.1" x2="382.90" y2="254.6" stroke="#222" stroke-width="0.6"/>
<text x="382.90" y="260.0" font-size="4.9" font-weight="bold" text-anchor="middle" fill="#222" class="sb">150</text>
<text x="334.7" y="179.9" font-size="6.35" font-weight="bold" text-anchor="middle" fill="#111" class="sb2">U266 day 2</text>
<text x="340" y="268.8" font-size="5.45" font-weight="bold" text-anchor="middle" fill="#111" class="sb">Lovastatin (&#181;M)</text>
<text transform="translate(264.8 216.95) rotate(-90)" x="0" y="0" font-size="5.6" font-weight="bold" text-anchor="middle" fill="#111" class="sb">Proliferation (CPM)</text>
<polyline points="291.10,196.40 297.22,197.20 309.46,198.10 321.70,198.30 352.30,198.80 382.90,200.90" fill="none" stroke="#111" stroke-width="0.8"/>
<polyline points="291.10,196.40 297.22,200.00 309.46,203.00 321.70,203.40 352.30,204.70 382.90,207.20" fill="none" stroke="#111" stroke-width="0.8"/>
<polyline points="291.10,196.40 297.22,200.90 309.46,207.60 321.70,208.60 352.30,209.60 382.90,211.30" fill="none" stroke="#111" stroke-width="0.8"/>
<polyline points="291.10,198.30 309.46,208.00 321.70,209.00 352.30,209.90 382.90,211.60" fill="none" stroke="#111" stroke-width="0.8"/>
<circle cx="291.10" cy="196.40" r="1.15" fill="#fff" stroke="#000" stroke-width="0.7"/>
<circle cx="297.22" cy="197.20" r="1.15" fill="#fff" stroke="#000" stroke-width="0.7"/>
<circle cx="309.46" cy="198.10" r="1.15" fill="#fff" stroke="#000" stroke-width="0.7"/>
<circle cx="321.70" cy="198.30" r="1.15" fill="#fff" stroke="#000" stroke-width="0.7"/>
<circle cx="352.30" cy="198.80" r="1.15" fill="#fff" stroke="#000" stroke-width="0.7"/>
<circle cx="382.90" cy="200.90" r="1.15" fill="#fff" stroke="#000" stroke-width="0.7"/>
<circle cx="291.10" cy="196.40" r="1.50" fill="#000"/>
<circle cx="297.22" cy="200.00" r="1.50" fill="#000"/>
<circle cx="309.46" cy="203.00" r="1.50" fill="#000"/>
<circle cx="321.70" cy="203.40" r="1.50" fill="#000"/>
<circle cx="352.30" cy="204.70" r="1.50" fill="#000"/>
<circle cx="382.90" cy="207.20" r="1.50" fill="#000"/>
<rect x="289.95" y="195.25" width="2.30" height="2.30" fill="#fff" stroke="#000" stroke-width="0.7"/>
<rect x="296.07" y="199.75" width="2.30" height="2.30" fill="#fff" stroke="#000" stroke-width="0.7"/>
<rect x="308.31" y="206.45" width="2.30" height="2.30" fill="#fff" stroke="#000" stroke-width="0.7"/>
<rect x="320.55" y="207.45" width="2.30" height="2.30" fill="#fff" stroke="#000" stroke-width="0.7"/>
<rect x="351.15" y="208.45" width="2.30" height="2.30" fill="#fff" stroke="#000" stroke-width="0.7"/>
<rect x="381.75" y="210.15" width="2.30" height="2.30" fill="#fff" stroke="#000" stroke-width="0.7"/>
<rect x="289.60" y="196.80" width="3.00" height="3.00" fill="#000"/>
<rect x="307.96" y="206.50" width="3.00" height="3.00" fill="#000"/>
<rect x="320.20" y="207.50" width="3.00" height="3.00" fill="#000"/>
<rect x="350.80" y="208.40" width="3.00" height="3.00" fill="#000"/>
<rect x="381.40" y="210.10" width="3.00" height="3.00" fill="#000"/>
<line x1="420.0" y1="187.3" x2="420.0" y2="253.1" stroke="#222" stroke-width="0.8"/>
<line x1="420.0" y1="253.1" x2="517.2" y2="253.1" stroke="#222" stroke-width="0.8"/>
<line x1="418.5" y1="187.80" x2="420.0" y2="187.80" stroke="#222" stroke-width="0.6"/>
<text x="414.8" y="188.90" font-size="5.0" font-weight="bold" text-anchor="end" fill="#333" class="sb">1.0x10</text>
<text x="415.0" y="187.30" font-size="3.2" font-weight="bold" fill="#333" class="sb">10</text>
<line x1="418.5" y1="198.68" x2="420.0" y2="198.68" stroke="#222" stroke-width="0.6"/>
<text x="414.8" y="199.78" font-size="5.0" font-weight="bold" text-anchor="end" fill="#333" class="sb">1.0x10</text>
<text x="415.0" y="198.18" font-size="3.2" font-weight="bold" fill="#333" class="sb">09</text>
<line x1="418.5" y1="209.57" x2="420.0" y2="209.57" stroke="#222" stroke-width="0.6"/>
<text x="414.8" y="210.67" font-size="5.0" font-weight="bold" text-anchor="end" fill="#333" class="sb">1.0x10</text>
<text x="415.0" y="209.07" font-size="3.2" font-weight="bold" fill="#333" class="sb">08</text>
<line x1="418.5" y1="220.45" x2="420.0" y2="220.45" stroke="#222" stroke-width="0.6"/>
<text x="414.8" y="221.55" font-size="5.0" font-weight="bold" text-anchor="end" fill="#333" class="sb">1.0x10</text>
<text x="415.0" y="219.95" font-size="3.2" font-weight="bold" fill="#333" class="sb">07</text>
<line x1="418.5" y1="231.33" x2="420.0" y2="231.33" stroke="#222" stroke-width="0.6"/>
<text x="414.8" y="232.43" font-size="5.0" font-weight="bold" text-anchor="end" fill="#333" class="sb">1.0x10</text>
<text x="415.0" y="230.83" font-size="3.2" font-weight="bold" fill="#333" class="sb">06</text>
<line x1="418.5" y1="242.22" x2="420.0" y2="242.22" stroke="#222" stroke-width="0.6"/>
<text x="414.8" y="243.32" font-size="5.0" font-weight="bold" text-anchor="end" fill="#333" class="sb">1.0x10</text>
<text x="415.0" y="241.72" font-size="3.2" font-weight="bold" fill="#333" class="sb">05</text>
<line x1="418.5" y1="253.10" x2="420.0" y2="253.10" stroke="#222" stroke-width="0.6"/>
<text x="414.8" y="254.20" font-size="5.0" font-weight="bold" text-anchor="end" fill="#333" class="sb">1.0x10</text>
<text x="415.0" y="252.60" font-size="3.2" font-weight="bold" fill="#333" class="sb">04</text>
<line x1="420.00" y1="253.1" x2="420.00" y2="254.6" stroke="#222" stroke-width="0.6"/>
<text x="420.00" y="260.0" font-size="4.9" font-weight="bold" text-anchor="middle" fill="#222" class="sb">0</text>
<line x1="450.40" y1="253.1" x2="450.40" y2="254.6" stroke="#222" stroke-width="0.6"/>
<text x="450.40" y="260.0" font-size="4.9" font-weight="bold" text-anchor="middle" fill="#222" class="sb">50</text>
<line x1="480.80" y1="253.1" x2="480.80" y2="254.6" stroke="#222" stroke-width="0.6"/>
<text x="480.80" y="260.0" font-size="4.9" font-weight="bold" text-anchor="middle" fill="#222" class="sb">100</text>
<line x1="511.20" y1="253.1" x2="511.20" y2="254.6" stroke="#222" stroke-width="0.6"/>
<text x="511.20" y="260.0" font-size="4.9" font-weight="bold" text-anchor="middle" fill="#222" class="sb">150</text>
<text x="463" y="179.9" font-size="6.35" font-weight="bold" text-anchor="middle" fill="#111" class="sb2">U266 day 4</text>
<text x="469" y="268.8" font-size="5.45" font-weight="bold" text-anchor="middle" fill="#111" class="sb">Lovastatin (&#181;M)</text>
<text transform="translate(393.2 216.95) rotate(-90)" x="0" y="0" font-size="5.6" font-weight="bold" text-anchor="middle" fill="#111" class="sb">Proliferation (CPM)</text>
<polyline points="420.00,194.80 426.08,195.00 438.24,195.80 450.40,196.40 480.80,197.20 511.20,199.60" fill="none" stroke="#111" stroke-width="0.8"/>
<polyline points="420.00,195.00 426.08,198.30 438.24,198.80 450.40,199.00 480.80,201.00 511.20,203.90" fill="none" stroke="#111" stroke-width="0.8"/>
<polyline points="420.00,200.60 426.08,207.70 438.24,211.70 450.40,215.60 480.80,219.00 511.20,228.60" fill="none" stroke="#111" stroke-width="0.8"/>
<polyline points="420.00,195.00 426.08,205.00 438.24,226.00 450.40,227.00 480.80,229.20 511.20,231.40" fill="none" stroke="#111" stroke-width="0.8"/>
<circle cx="420.00" cy="194.80" r="1.15" fill="#fff" stroke="#000" stroke-width="0.7"/>
<circle cx="426.08" cy="195.00" r="1.15" fill="#fff" stroke="#000" stroke-width="0.7"/>
<circle cx="438.24" cy="195.80" r="1.15" fill="#fff" stroke="#000" stroke-width="0.7"/>
<circle cx="450.40" cy="196.40" r="1.15" fill="#fff" stroke="#000" stroke-width="0.7"/>
<circle cx="480.80" cy="197.20" r="1.15" fill="#fff" stroke="#000" stroke-width="0.7"/>
<circle cx="511.20" cy="199.60" r="1.15" fill="#fff" stroke="#000" stroke-width="0.7"/>
<circle cx="420.00" cy="195.00" r="1.50" fill="#000"/>
<circle cx="426.08" cy="198.30" r="1.50" fill="#000"/>
<circle cx="438.24" cy="198.80" r="1.50" fill="#000"/>
<circle cx="450.40" cy="199.00" r="1.50" fill="#000"/>
<circle cx="480.80" cy="201.00" r="1.50" fill="#000"/>
<circle cx="511.20" cy="203.90" r="1.50" fill="#000"/>
<rect x="418.85" y="199.45" width="2.30" height="2.30" fill="#fff" stroke="#000" stroke-width="0.7"/>
<rect x="424.93" y="206.55" width="2.30" height="2.30" fill="#fff" stroke="#000" stroke-width="0.7"/>
<rect x="437.09" y="210.55" width="2.30" height="2.30" fill="#fff" stroke="#000" stroke-width="0.7"/>
<rect x="449.25" y="214.45" width="2.30" height="2.30" fill="#fff" stroke="#000" stroke-width="0.7"/>
<rect x="479.65" y="217.85" width="2.30" height="2.30" fill="#fff" stroke="#000" stroke-width="0.7"/>
<rect x="510.05" y="227.45" width="2.30" height="2.30" fill="#fff" stroke="#000" stroke-width="0.7"/>
<rect x="418.50" y="193.50" width="3.00" height="3.00" fill="#000"/>
<rect x="424.58" y="203.50" width="3.00" height="3.00" fill="#000"/>
<rect x="436.74" y="224.50" width="3.00" height="3.00" fill="#000"/>
<rect x="448.90" y="225.50" width="3.00" height="3.00" fill="#000"/>
<rect x="479.30" y="227.70" width="3.00" height="3.00" fill="#000"/>
<rect x="509.70" y="229.90" width="3.00" height="3.00" fill="#000"/>
<line x1="456.7" y1="11.60" x2="470.5" y2="11.60" stroke="#111" stroke-width="0.8"/>
<rect x="461.00" y="9.80" width="3.60" height="3.60" fill="#000"/>
<text x="472.9" y="14.70" font-size="8.6" fill="#111" class="sr">lova</text>
<line x1="456.7" y1="23.90" x2="470.5" y2="23.90" stroke="#111" stroke-width="0.8"/>
<circle cx="462.80" cy="23.90" r="1.55" fill="#fff" stroke="#000" stroke-width="0.7"/>
<text x="472.9" y="27.00" font-size="8.6" fill="#111" class="sr">lova+meva</text>
<line x1="456.7" y1="36.20" x2="470.5" y2="36.20" stroke="#111" stroke-width="0.8"/>
<circle cx="462.80" cy="36.20" r="1.75" fill="#fff" stroke="#000" stroke-width="0.7"/>
<text x="472.9" y="39.30" font-size="8.6" fill="#111" class="sr">lova+FOH</text>
<line x1="456.7" y1="48.50" x2="470.5" y2="48.50" stroke="#111" stroke-width="0.8"/>
<circle cx="462.80" cy="48.50" r="1.80" fill="#000"/>
<text x="472.9" y="51.60" font-size="8.6" fill="#111" class="sr">lova+GGOH</text>
<text x="-0.5" y="7.8" font-size="11" font-weight="bold" fill="#000">A.</text>
<text x="-0.5" y="294.6" font-size="10.2" font-weight="bold" fill="#000">B.</text>
<text x="213.8" y="294.6" font-size="10.2" font-weight="bold" fill="#000">C.</text>
<line x1="30.5" y1="304.4" x2="30.5" y2="401.3" stroke="#222" stroke-width="0.9"/>
<line x1="30.5" y1="401.3" x2="175" y2="401.3" stroke="#222" stroke-width="0.9"/>
<rect x="30.5" y="309.50" width="123.30" height="10.6" fill="#000"/>
<rect x="153.80" y="309.90" width="4.52" height="9.80" fill="#fff" stroke="#000" stroke-width="0.8"/>
<rect x="158.32" y="309.90" width="7.67" height="9.80" fill="url(#hatch)" stroke="#000" stroke-width="0.8"/>
<path d="M153.80 314.80H156.68M156.68 312.80V316.80" stroke="#000" stroke-width="0.7" fill="none"/>
<path d="M165.99 314.80H166.95M166.95 312.80V316.80" stroke="#000" stroke-width="0.7" fill="none"/>
<text x="26" y="317.10" font-size="6.4" text-anchor="end" fill="#111" class="sr">150</text>
<rect x="30.5" y="324.75" width="122.75" height="10.6" fill="#000"/>
<rect x="153.25" y="325.15" width="4.52" height="9.80" fill="#fff" stroke="#000" stroke-width="0.8"/>
<rect x="157.77" y="325.15" width="9.45" height="9.80" fill="url(#hatch)" stroke="#000" stroke-width="0.8"/>
<path d="M153.25 330.05H156.40M156.40 328.05V332.05" stroke="#000" stroke-width="0.7" fill="none"/>
<path d="M167.23 330.05H168.60M168.60 328.05V332.05" stroke="#000" stroke-width="0.7" fill="none"/>
<text x="26" y="332.35" font-size="6.4" text-anchor="end" fill="#111" class="sr">100</text>
<rect x="30.5" y="340.00" width="120.56" height="10.6" fill="#000"/>
<rect x="151.06" y="340.40" width="6.99" height="9.80" fill="#fff" stroke="#000" stroke-width="0.8"/>
<rect x="158.05" y="340.40" width="8.77" height="9.80" fill="url(#hatch)" stroke="#000" stroke-width="0.8"/>
<path d="M151.06 345.30H155.72M155.72 343.30V347.30" stroke="#000" stroke-width="0.7" fill="none"/>
<path d="M166.81 345.30H169.97M169.97 343.30V347.30" stroke="#000" stroke-width="0.7" fill="none"/>
<text x="26" y="347.60" font-size="6.4" text-anchor="end" fill="#111" class="sr">30</text>
<rect x="30.5" y="355.25" width="107.00" height="10.6" fill="#000"/>
<rect x="137.50" y="355.65" width="19.04" height="9.80" fill="#fff" stroke="#000" stroke-width="0.8"/>
<rect x="156.54" y="355.65" width="9.45" height="9.80" fill="url(#hatch)" stroke="#000" stroke-width="0.8"/>
<text x="26" y="362.85" font-size="6.4" text-anchor="end" fill="#111" class="sr">10</text>
<rect x="30.5" y="370.50" width="77.27" height="10.6" fill="#000"/>
<rect x="107.77" y="370.90" width="48.09" height="9.80" fill="#fff" stroke="#000" stroke-width="0.8"/>
<rect x="155.86" y="370.90" width="11.51" height="9.80" fill="url(#hatch)" stroke="#000" stroke-width="0.8"/>
<path d="M107.77 375.80H110.92M110.92 373.80V377.80" stroke="#000" stroke-width="0.7" fill="none"/>
<path d="M167.36 375.80H168.46M168.46 373.80V377.80" stroke="#000" stroke-width="0.7" fill="none"/>
<text x="26" y="378.10" font-size="6.4" text-anchor="end" fill="#111" class="sr">5</text>
<rect x="30.5" y="385.75" width="54.12" height="10.6" fill="#000"/>
<rect x="84.62" y="386.15" width="66.17" height="9.80" fill="#fff" stroke="#000" stroke-width="0.8"/>
<rect x="150.79" y="386.15" width="16.58" height="9.80" fill="url(#hatch)" stroke="#000" stroke-width="0.8"/>
<path d="M84.62 391.05H85.99M85.99 389.05V393.05" stroke="#000" stroke-width="0.7" fill="none"/>
<text x="26" y="393.35" font-size="6.4" text-anchor="end" fill="#111" class="sr">0</text>
<line x1="30.50" y1="401.3" x2="30.50" y2="403" stroke="#222" stroke-width="0.7"/>
<text x="30.50" y="410.8" font-size="6.8" font-weight="bold" text-anchor="middle" fill="#111" class="sb">0</text>
<line x1="64.75" y1="401.3" x2="64.75" y2="403" stroke="#222" stroke-width="0.7"/>
<text x="64.75" y="410.8" font-size="6.8" font-weight="bold" text-anchor="middle" fill="#111" class="sb">25</text>
<line x1="99.00" y1="401.3" x2="99.00" y2="403" stroke="#222" stroke-width="0.7"/>
<text x="99.00" y="410.8" font-size="6.8" font-weight="bold" text-anchor="middle" fill="#111" class="sb">50</text>
<line x1="133.25" y1="401.3" x2="133.25" y2="403" stroke="#222" stroke-width="0.7"/>
<text x="133.25" y="410.8" font-size="6.8" font-weight="bold" text-anchor="middle" fill="#111" class="sb">75</text>
<line x1="167.50" y1="401.3" x2="167.50" y2="403" stroke="#222" stroke-width="0.7"/>
<text x="167.50" y="410.8" font-size="6.8" font-weight="bold" text-anchor="middle" fill="#111" class="sb">100</text>
<text x="102.3" y="423.6" font-size="8.3" font-weight="bold" text-anchor="middle" fill="#111" class="sb">%</text>
<text transform="translate(11.1 345.6) rotate(-90)" font-size="8.4" font-weight="bold" text-anchor="middle" fill="#111" class="sb">Lovastatin (&#181;M)</text>
<rect x="185.6" y="309.2" width="13.399999999999999" height="4.2" fill="#000" stroke="#000" stroke-width="0.8"/>
<text x="201.6" y="314.10" font-size="7.8" fill="#111" class="sr">G1</text>
<rect x="185.6" y="320.29999999999995" width="13.399999999999999" height="4.2" fill="#fff" stroke="#000" stroke-width="0.8"/>
<text x="201.6" y="325.20" font-size="7.8" fill="#111" class="sr">S</text>
<rect x="185.6" y="331.5" width="13.399999999999999" height="4.2" fill="url(#hatch)" stroke="#000" stroke-width="0.8"/>
<text x="201.6" y="336.40" font-size="7.8" fill="#111" class="sr">G2/M</text>
<rect x="468.2" y="299.79999999999995" width="15.0" height="4.5" fill="#000" stroke="#000" stroke-width="0.8"/>
<text x="485.5" y="304.70" font-size="8.5" fill="#111" class="sr">G1</text>
<rect x="468.2" y="311.7" width="15.0" height="4.5" fill="#fff" stroke="#000" stroke-width="0.8"/>
<text x="485.5" y="316.60" font-size="8.5" fill="#111" class="sr">S</text>
<rect x="468.2" y="323.9" width="15.0" height="4.5" fill="url(#hatch)" stroke="#000" stroke-width="0.8"/>
<text x="485.5" y="328.80" font-size="8.5" fill="#111" class="sr">G2/M</text>
<line x1="295.5" y1="294.3" x2="295.5" y2="401.7" stroke="#222" stroke-width="0.9"/>
<line x1="295.5" y1="401.7" x2="457" y2="401.7" stroke="#222" stroke-width="0.9"/>
<rect x="295.5" y="297.90" width="99.14" height="6.8" fill="#000"/>
<rect x="394.64" y="298.30" width="45.13" height="6.00" fill="#fff" stroke="#000" stroke-width="0.8"/>
<rect x="439.78" y="298.30" width="7.04" height="6.00" fill="url(#hatch)" stroke="#000" stroke-width="0.8"/>
<path d="M394.64 301.30H400.92M400.92 299.80V302.80" stroke="#000" stroke-width="0.7" fill="none"/>
<path d="M446.82 301.30H448.04M448.04 299.80V302.80" stroke="#000" stroke-width="0.7" fill="none"/>
<text x="291.8" y="304.00" font-size="7.5" text-anchor="end" fill="#111" class="sr">30 &#181;M L+G</text>
<rect x="295.5" y="307.42" width="125.77" height="6.8" fill="#000"/>
<rect x="421.27" y="307.82" width="18.97" height="6.00" fill="#fff" stroke="#000" stroke-width="0.8"/>
<rect x="440.24" y="307.82" width="6.88" height="6.00" fill="url(#hatch)" stroke="#000" stroke-width="0.8"/>
<path d="M421.27 310.82H424.02M424.02 309.32V312.32" stroke="#000" stroke-width="0.7" fill="none"/>
<path d="M447.12 310.82H448.04M448.04 309.32V312.32" stroke="#000" stroke-width="0.7" fill="none"/>
<text x="291.8" y="313.52" font-size="7.5" text-anchor="end" fill="#111" class="sr">30 &#181;M L+F</text>
<rect x="295.5" y="316.94" width="69.16" height="6.8" fill="#000"/>
<rect x="364.66" y="317.34" width="66.40" height="6.00" fill="#fff" stroke="#000" stroke-width="0.8"/>
<rect x="431.06" y="317.34" width="16.83" height="6.00" fill="url(#hatch)" stroke="#000" stroke-width="0.8"/>
<path d="M364.66 320.34H367.72M367.72 318.84V321.84" stroke="#000" stroke-width="0.7" fill="none"/>
<text x="291.8" y="323.04" font-size="7.5" text-anchor="end" fill="#111" class="sr">30 &#181;M L+M</text>
<rect x="295.5" y="326.46" width="135.10" height="6.8" fill="#000"/>
<rect x="430.60" y="326.86" width="7.96" height="6.00" fill="#fff" stroke="#000" stroke-width="0.8"/>
<rect x="438.56" y="326.86" width="9.33" height="6.00" fill="url(#hatch)" stroke="#000" stroke-width="0.8"/>
<path d="M430.60 329.86H432.44M432.44 328.36V331.36" stroke="#000" stroke-width="0.7" fill="none"/>
<text x="291.8" y="332.56" font-size="7.5" text-anchor="end" fill="#111" class="sr">30 &#181;M L</text>
<rect x="295.5" y="335.98" width="61.05" height="6.8" fill="#000"/>
<rect x="356.55" y="336.38" width="74.05" height="6.00" fill="#fff" stroke="#000" stroke-width="0.8"/>
<rect x="430.60" y="336.38" width="17.75" height="6.00" fill="url(#hatch)" stroke="#000" stroke-width="0.8"/>
<path d="M356.55 339.38H358.38M358.38 337.88V340.88" stroke="#000" stroke-width="0.7" fill="none"/>
<text x="291.8" y="342.08" font-size="7.5" text-anchor="end" fill="#111" class="sr">0 &#181;M L</text>
<rect x="295.5" y="354.20" width="92.26" height="6.8" fill="#000"/>
<rect x="387.76" y="354.60" width="49.73" height="6.00" fill="#fff" stroke="#000" stroke-width="0.8"/>
<rect x="437.48" y="354.60" width="9.64" height="6.00" fill="url(#hatch)" stroke="#000" stroke-width="0.8"/>
<path d="M387.76 357.60H392.35M392.35 356.10V359.10" stroke="#000" stroke-width="0.7" fill="none"/>
<path d="M447.12 357.60H448.50M448.50 356.10V359.10" stroke="#000" stroke-width="0.7" fill="none"/>
<text x="291.8" y="360.30" font-size="7.5" text-anchor="end" fill="#111" class="sr">10 &#181;M L+G</text>
<rect x="295.5" y="363.75" width="117.66" height="6.8" fill="#000"/>
<rect x="413.16" y="364.15" width="28.92" height="6.00" fill="#fff" stroke="#000" stroke-width="0.8"/>
<rect x="442.07" y="364.15" width="5.05" height="6.00" fill="url(#hatch)" stroke="#000" stroke-width="0.8"/>
<path d="M413.16 367.15H415.45M415.45 365.65V368.65" stroke="#000" stroke-width="0.7" fill="none"/>
<text x="291.8" y="369.85" font-size="7.5" text-anchor="end" fill="#111" class="sr">10 &#181;M L+F</text>
<rect x="295.5" y="373.30" width="65.64" height="6.8" fill="#000"/>
<rect x="361.14" y="373.70" width="68.85" height="6.00" fill="#fff" stroke="#000" stroke-width="0.8"/>
<rect x="429.99" y="373.70" width="17.14" height="6.00" fill="url(#hatch)" stroke="#000" stroke-width="0.8"/>
<path d="M361.14 376.70H362.97M362.97 375.20V378.20" stroke="#000" stroke-width="0.7" fill="none"/>
<text x="291.8" y="379.40" font-size="7.5" text-anchor="end" fill="#111" class="sr">10 &#181;M L+M</text>
<rect x="295.5" y="382.85" width="119.95" height="6.8" fill="#000"/>
<rect x="415.45" y="383.25" width="20.96" height="6.00" fill="#fff" stroke="#000" stroke-width="0.8"/>
<rect x="436.41" y="383.25" width="10.40" height="6.00" fill="url(#hatch)" stroke="#000" stroke-width="0.8"/>
<path d="M415.45 386.25H420.04M420.04 384.75V387.75" stroke="#000" stroke-width="0.7" fill="none"/>
<path d="M446.82 386.25H448.19M448.19 384.75V387.75" stroke="#000" stroke-width="0.7" fill="none"/>
<text x="291.8" y="388.95" font-size="7.5" text-anchor="end" fill="#111" class="sr">10 &#181;M L</text>
<rect x="295.5" y="392.40" width="60.59" height="6.8" fill="#000"/>
<rect x="356.09" y="392.80" width="73.90" height="6.00" fill="#fff" stroke="#000" stroke-width="0.8"/>
<rect x="429.99" y="392.80" width="17.90" height="6.00" fill="url(#hatch)" stroke="#000" stroke-width="0.8"/>
<path d="M356.09 395.80H359.91M359.91 394.30V397.30" stroke="#000" stroke-width="0.7" fill="none"/>
<text x="291.8" y="398.50" font-size="7.5" text-anchor="end" fill="#111" class="sr">0 &#181;M L</text>
<line x1="295.50" y1="401.7" x2="295.50" y2="403.4" stroke="#222" stroke-width="0.7"/>
<text x="295.50" y="412.7" font-size="7" font-weight="bold" text-anchor="middle" fill="#111" class="sb">0</text>
<line x1="333.75" y1="401.7" x2="333.75" y2="403.4" stroke="#222" stroke-width="0.7"/>
<text x="333.75" y="412.7" font-size="7" font-weight="bold" text-anchor="middle" fill="#111" class="sb">25</text>
<line x1="372.00" y1="401.7" x2="372.00" y2="403.4" stroke="#222" stroke-width="0.7"/>
<text x="372.00" y="412.7" font-size="7" font-weight="bold" text-anchor="middle" fill="#111" class="sb">50</text>
<line x1="410.25" y1="401.7" x2="410.25" y2="403.4" stroke="#222" stroke-width="0.7"/>
<text x="410.25" y="412.7" font-size="7" font-weight="bold" text-anchor="middle" fill="#111" class="sb">75</text>
<line x1="448.50" y1="401.7" x2="448.50" y2="403.4" stroke="#222" stroke-width="0.7"/>
<text x="448.50" y="412.7" font-size="7" font-weight="bold" text-anchor="middle" fill="#111" class="sb">100</text>
<text x="376" y="426.7" font-size="9" font-weight="bold" text-anchor="middle" fill="#111" class="sb">%</text>
</svg></body></html>
